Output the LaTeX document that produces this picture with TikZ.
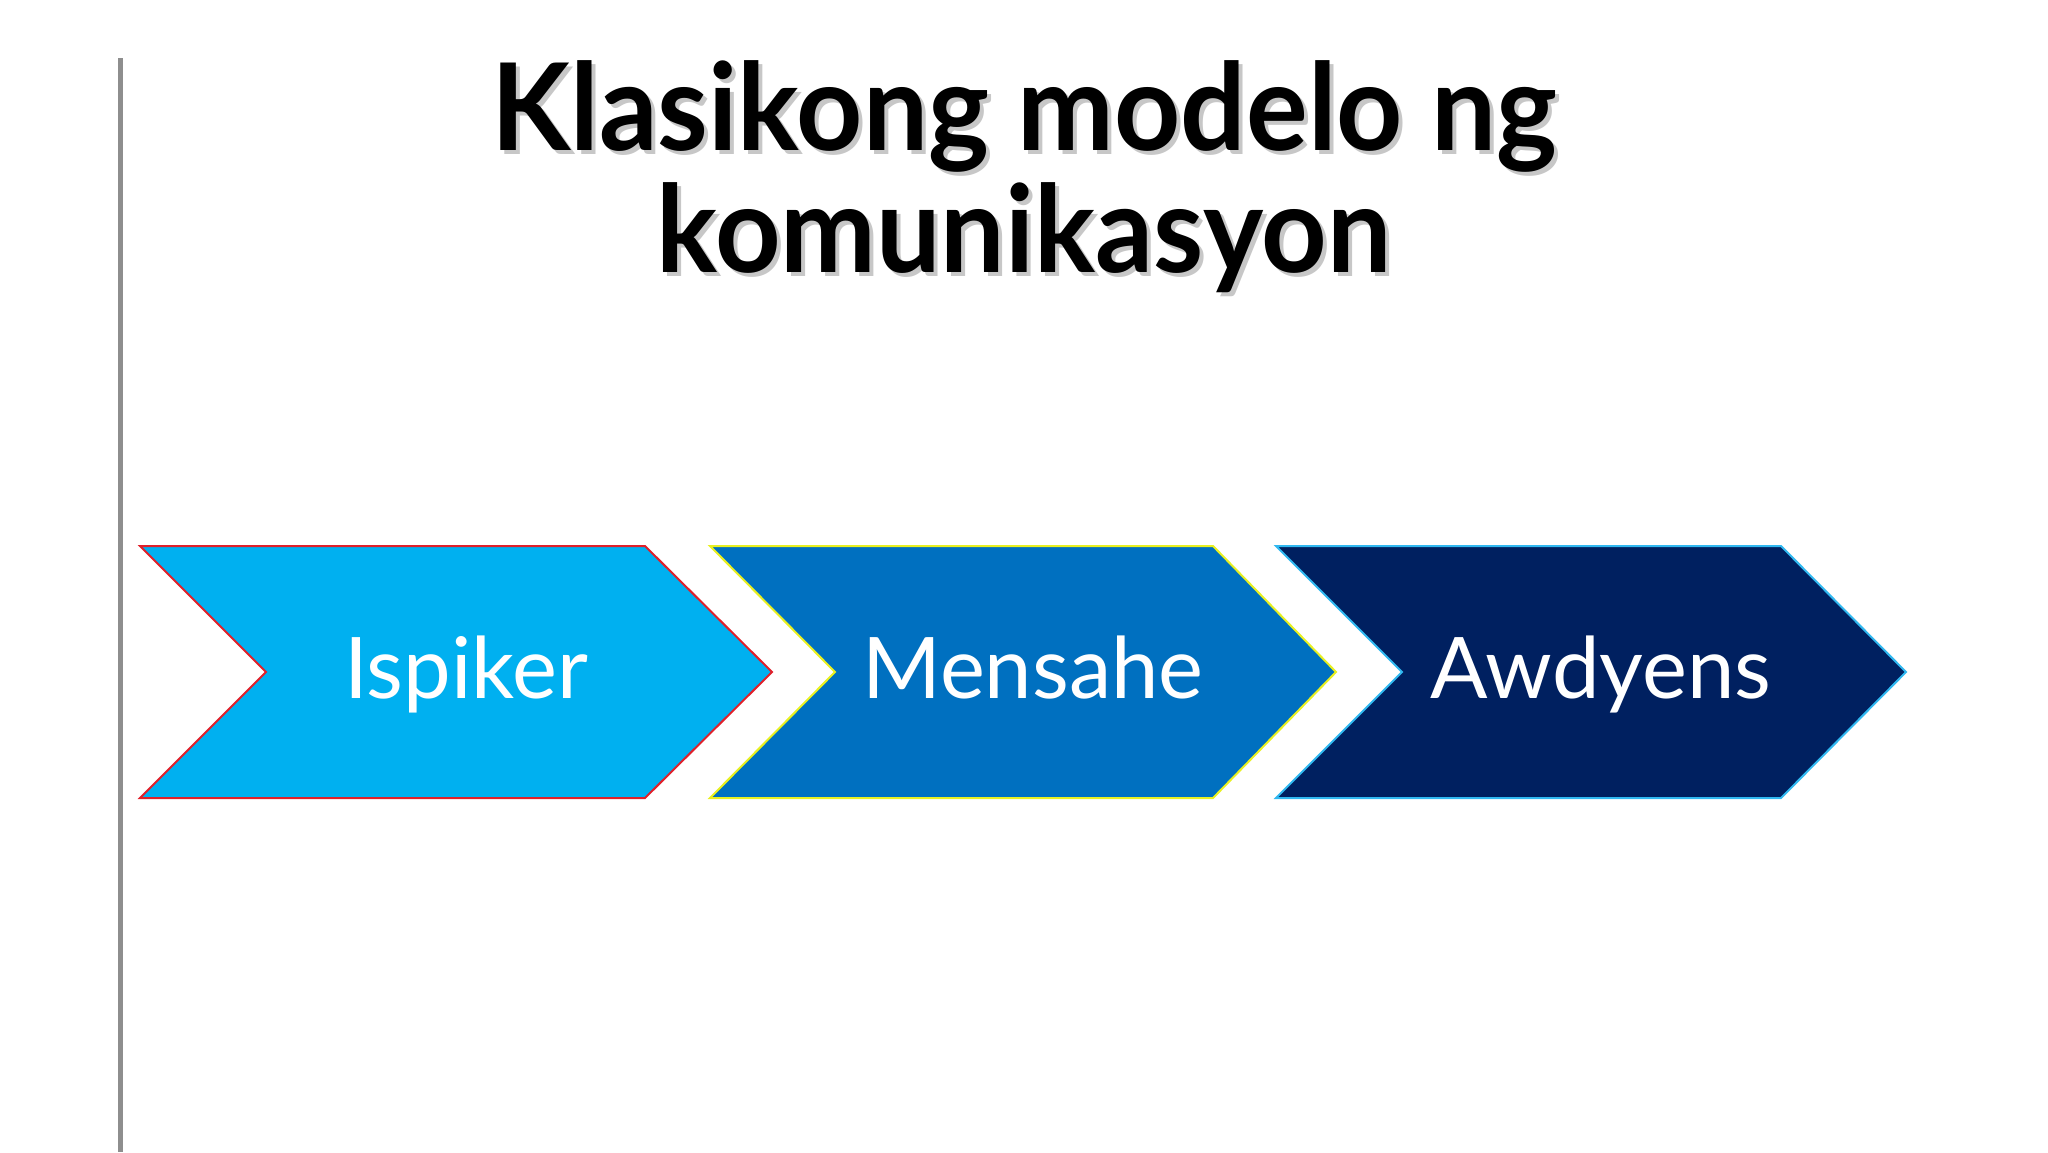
\documentclass[tikz,border=0pt]{standalone}
\usepackage{fontspec}
\setmainfont{Lato}
\definecolor{cOne}{HTML}{00B0F0}
\definecolor{cTwo}{HTML}{0070C0}
\definecolor{cThree}{HTML}{002060}
\definecolor{eOne}{HTML}{E0202A}
\definecolor{eTwo}{HTML}{E8F020}
\definecolor{eThree}{HTML}{30B8F0}
\definecolor{railgray}{HTML}{8E8E8E}
\begin{document}
\begin{tikzpicture}[x=1pt,y=-1pt,
  titletext/.style={font=\fontsize{121}{121}\selectfont\bfseries, inner sep=0pt, anchor=base},
  labeltext/.style={font=\fontsize{85}{85}\selectfont, text=white, inner sep=0pt, anchor=base},
  chev/.style={line width=2pt, line join=miter}]
\useasboundingbox (0,0) rectangle (2048,1152);
\fill[white] (0,0) rectangle (2048,1152);
\draw[railgray, line width=5pt] (120,58) -- (120,1152);
% title shadow
\node[titletext, text=black!22] (t1s) at (1028,154) {\scalebox{0.955}[1]{Klasikong modelo ng}};
\node[titletext, text=black!22] (t2s) at (1028,276) {\scalebox{0.945}[1]{komunikasyon}};
\node[titletext] (t1) at (1024,150) {\scalebox{0.955}[1]{Klasikong modelo ng}};
\node[titletext] (t2) at (1024,272) {\scalebox{0.945}[1]{komunikasyon}};
% chevrons
\filldraw[chev, fill=cOne, draw=eOne] (140,546) -- (645,546) -- (772,672) -- (645,798) -- (140,798) -- (266,672) -- cycle;
\filldraw[chev, fill=cTwo, draw=eTwo] (710,546) -- (1213,546) -- (1336,672) -- (1213,798) -- (710,798) -- (835,672) -- cycle;
\filldraw[chev, fill=cThree, draw=eThree] (1276,546) -- (1781,546) -- (1906,672) -- (1781,798) -- (1276,798) -- (1402,672) -- cycle;
\node[labeltext] (l1) at (466,698) {Ispiker};
\node[labeltext] (l2) at (1033,698) {Mensahe};
\node[labeltext] (l3) at (1601,698) {Awdyens};
\end{tikzpicture}
\end{document}
